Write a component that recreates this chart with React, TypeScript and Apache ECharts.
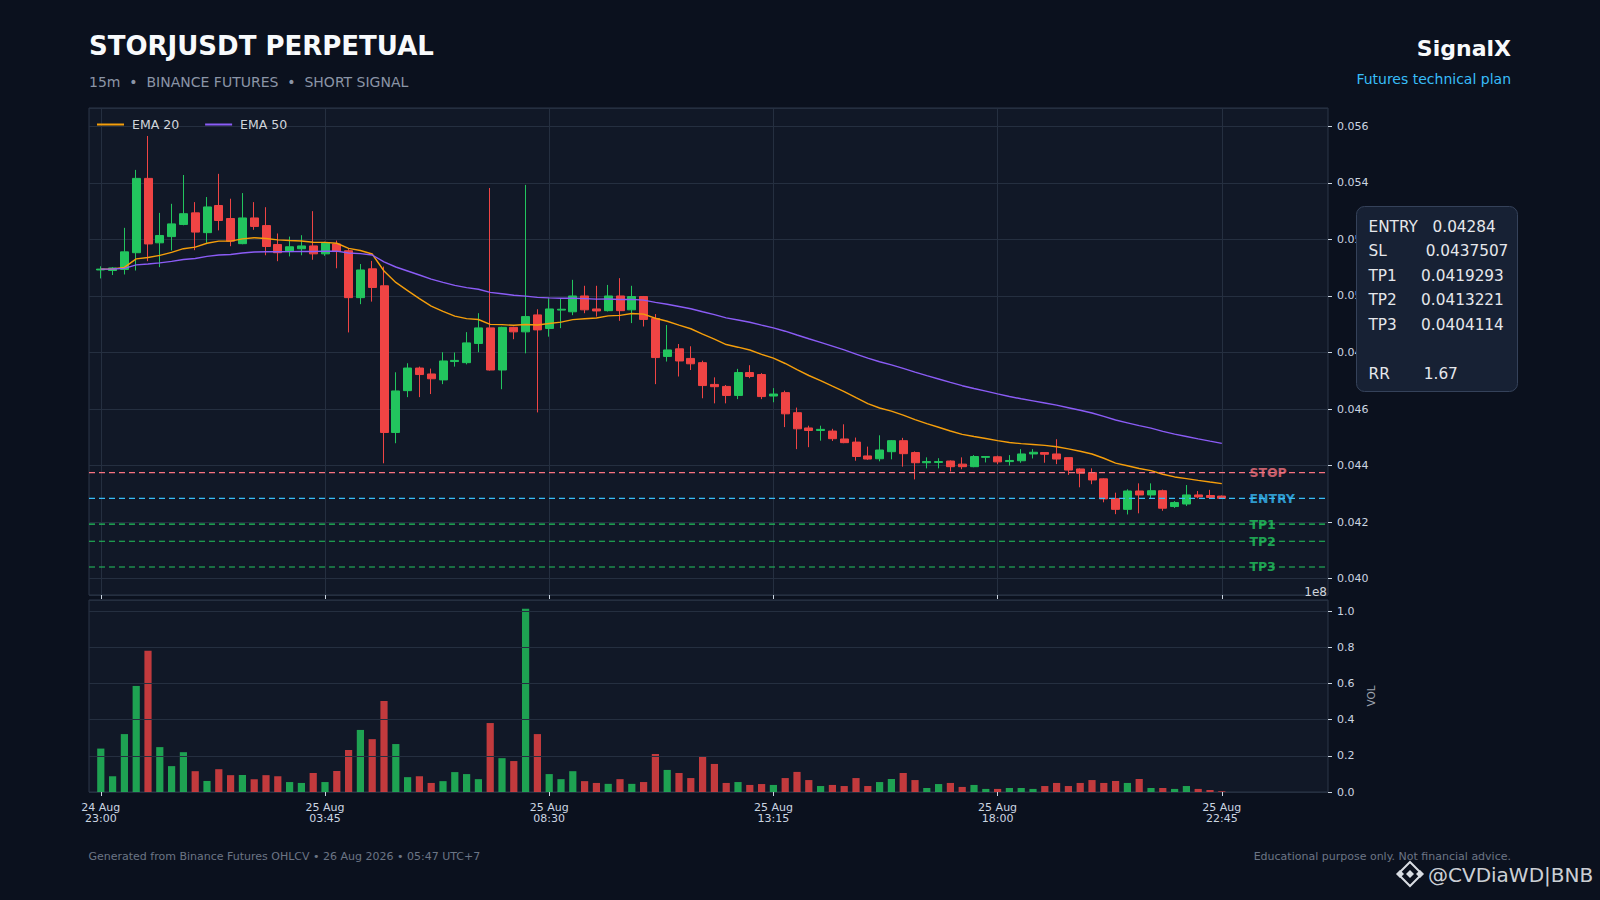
import React, { useEffect, useRef } from "react";
import * as echarts from "echarts";

// ---------------- texts ----------------
const TITLE = "STORJUSDT PERPETUAL";
const SUBTITLE = "15m  •  BINANCE FUTURES  •  SHORT SIGNAL";
const BRAND = "SignalX";
const BRAND_SUB = "Futures technical plan";
const FOOTER_LEFT = "Generated from Binance Futures OHLCV • 26 Aug 2026 • 05:47 UTC+7";
const FOOTER_RIGHT = "Educational purpose only. Not financial advice.";
const WATERMARK = "@CVDiaWD|BNB";
const OFFSET_TEXT = "1e8";

// ---------------- x axis ----------------
const TICK_INDEX = [0, 19, 38, 57, 76, 95];
const TICK_LABELS = [
  "24 Aug\n23:00",
  "25 Aug\n03:45",
  "25 Aug\n08:30",
  "25 Aug\n13:15",
  "25 Aug\n18:00",
  "25 Aug\n22:45",
];

// ---------------- OHLC (15m candles) ----------------
const OPEN = [
  0.05092, 0.0509, 0.05094, 0.05153, 0.05416, 0.05188, 0.0521, 0.05253, 0.05294, 0.05224,
  0.0532, 0.05274, 0.05185, 0.05276, 0.05249, 0.05182, 0.05157, 0.05167, 0.05177, 0.05149,
  0.05184, 0.0516, 0.04994, 0.05096, 0.05036, 0.04517, 0.04665, 0.04745, 0.04724, 0.04703,
  0.04768, 0.04764, 0.04832, 0.04887, 0.04738, 0.04889, 0.04873, 0.04933, 0.04885, 0.0495,
  0.04944, 0.05, 0.04954, 0.04948, 0.05, 0.04951, 0.04998, 0.0492, 0.04786, 0.04813,
  0.04779, 0.04764, 0.04687, 0.0468, 0.04648, 0.04729, 0.04722, 0.04646, 0.04658, 0.04587,
  0.04533, 0.04524, 0.04522, 0.04494, 0.04483, 0.04434, 0.04424, 0.04449, 0.04488, 0.04446,
  0.0441, 0.04411, 0.04416, 0.04405, 0.04396, 0.04429, 0.04431, 0.04414, 0.04417, 0.04441,
  0.04446, 0.04441, 0.04428, 0.04388, 0.04375, 0.04353, 0.04283, 0.04245, 0.0431, 0.04296,
  0.04311, 0.04255, 0.04264, 0.04296, 0.04294, 0.04292,
];
const CLOSE = [
  0.05095, 0.05099, 0.05156, 0.05416, 0.05184, 0.05214, 0.05255, 0.05291, 0.05226, 0.05315,
  0.05267, 0.05194, 0.05276, 0.05246, 0.05175, 0.05153, 0.05174, 0.05177, 0.05149, 0.05187,
  0.05157, 0.04994, 0.05092, 0.0503, 0.04517, 0.04664, 0.04745, 0.04722, 0.04707, 0.0477,
  0.04772, 0.04834, 0.04887, 0.04738, 0.04889, 0.04873, 0.04927, 0.0488, 0.04954, 0.04953,
  0.05, 0.04951, 0.04947, 0.05, 0.04948, 0.04998, 0.04917, 0.04782, 0.04809, 0.0477,
  0.0476, 0.04683, 0.04679, 0.04648, 0.04729, 0.04715, 0.04644, 0.04653, 0.04583, 0.0453,
  0.04524, 0.04528, 0.04495, 0.04481, 0.04432, 0.04423, 0.04455, 0.04488, 0.04442, 0.0441,
  0.04414, 0.04414, 0.04396, 0.04396, 0.04432, 0.04432, 0.04413, 0.04418, 0.04441, 0.04447,
  0.0444, 0.04423, 0.04384, 0.04373, 0.04349, 0.04282, 0.04245, 0.0431, 0.04296, 0.04311,
  0.04249, 0.04269, 0.04296, 0.04289, 0.04287, 0.04284,
];
const LOW = [
  0.05062, 0.05074, 0.05076, 0.0509, 0.05123, 0.05102, 0.05161, 0.0525, 0.05162, 0.05188,
  0.05232, 0.05176, 0.05183, 0.05234, 0.05144, 0.05123, 0.0514, 0.05144, 0.05128, 0.05142,
  0.05098, 0.04871, 0.04971, 0.0498, 0.04408, 0.04479, 0.04642, 0.04642, 0.04653, 0.04688,
  0.0475, 0.04758, 0.04801, 0.04736, 0.0467, 0.04847, 0.04797, 0.04588, 0.04856, 0.04886,
  0.04932, 0.04939, 0.04927, 0.04945, 0.04912, 0.04904, 0.04892, 0.04688, 0.04768, 0.04715,
  0.04738, 0.04638, 0.0462, 0.0462, 0.04635, 0.04709, 0.04635, 0.04624, 0.04536, 0.04458,
  0.04465, 0.04488, 0.04487, 0.04479, 0.04417, 0.0442, 0.04415, 0.04422, 0.04396, 0.04351,
  0.0439, 0.0439, 0.04379, 0.04387, 0.04394, 0.04411, 0.04405, 0.044, 0.0441, 0.04425,
  0.0441, 0.04405, 0.04367, 0.04323, 0.04334, 0.0427, 0.04228, 0.04227, 0.04231, 0.04284,
  0.0424, 0.0425, 0.04257, 0.04284, 0.04284, 0.04282,
];
const HIGH = [
  0.05105, 0.05102, 0.05241, 0.05446, 0.05566, 0.05294, 0.05326, 0.05428, 0.05332, 0.0535,
  0.05432, 0.05344, 0.05364, 0.05332, 0.05314, 0.05221, 0.0521, 0.05215, 0.053, 0.05192,
  0.05196, 0.05166, 0.05113, 0.05124, 0.05104, 0.0473, 0.04762, 0.0475, 0.04743, 0.04801,
  0.048, 0.04872, 0.04939, 0.05382, 0.04891, 0.04891, 0.05393, 0.04953, 0.04992, 0.0499,
  0.05057, 0.05036, 0.05036, 0.05039, 0.05063, 0.05036, 0.05, 0.04936, 0.04897, 0.0483,
  0.04822, 0.04771, 0.04712, 0.04685, 0.04742, 0.04755, 0.04727, 0.04674, 0.04665, 0.04605,
  0.04541, 0.04541, 0.0453, 0.04546, 0.04499, 0.04467, 0.04507, 0.0449, 0.04498, 0.0445,
  0.04429, 0.04426, 0.04418, 0.04429, 0.04437, 0.04433, 0.04435, 0.04437, 0.04458, 0.04458,
  0.04447, 0.04493, 0.04428, 0.0439, 0.0439, 0.04355, 0.04304, 0.04316, 0.04337, 0.04337,
  0.04315, 0.04274, 0.04331, 0.0431, 0.04314, 0.04294,
];
// volume in units of 1e8
const VOLUME = [
  0.24, 0.087, 0.32, 0.586, 0.78, 0.248, 0.143, 0.22, 0.115, 0.061,
  0.126, 0.093, 0.094, 0.071, 0.093, 0.087, 0.055, 0.05, 0.105, 0.055,
  0.116, 0.232, 0.343, 0.292, 0.503, 0.265, 0.082, 0.087, 0.05, 0.06,
  0.11, 0.099, 0.071, 0.381, 0.187, 0.171, 1.012, 0.32, 0.099, 0.071,
  0.115, 0.06, 0.05, 0.045, 0.071, 0.045, 0.055, 0.21, 0.122, 0.105,
  0.077, 0.194, 0.155, 0.05, 0.055, 0.039, 0.044, 0.039, 0.077, 0.111,
  0.066, 0.033, 0.039, 0.033, 0.077, 0.033, 0.055, 0.072, 0.105, 0.066,
  0.022, 0.044, 0.05, 0.028, 0.039, 0.017, 0.017, 0.022, 0.022, 0.017,
  0.033, 0.05, 0.033, 0.05, 0.066, 0.05, 0.061, 0.05, 0.072, 0.022,
  0.022, 0.017, 0.033, 0.017, 0.011, 0.004,
];

// ---------------- trade plan ----------------
const LEVEL_NAMES = ["STOP", "ENTRY", "TP1", "TP2", "TP3"];
const LEVEL_VALUES = [0.0437507, 0.04284, 0.0419293, 0.0413221, 0.0404114];
const INFO_ROWS = [
  "ENTRY   0.04284",
  "SL        0.0437507",
  "TP1     0.0419293",
  "TP2     0.0413221",
  "TP3     0.0404114",
  "",
  "RR       1.67",
];

// ---------------- styles / layout ----------------
const FONT = "DejaVu Sans";
const BG = "#0b111e";
const PLOT_BG = "#111827";
const BORDER = "#2d3748";
const GRID_LINE = "#252f40";
const AXIS_TEXT = "#cbd5e1";
const UP = "#22c55e";
const DOWN = "#ef4444";
const VOL_UP = "rgba(34,197,94,0.8)";
const VOL_DOWN = "rgba(239,68,68,0.8)";
const LEVEL_COLORS = ["#f7727f", "#38bdf8", "#22c55e", "#22c55e", "#22c55e"];
const SLOT_COUNT = 106; // candle i sits in slot i + 1
const LABEL_SLOT = 98;
const PLOT_LEFT = 89;
const PLOT_WIDTH = 1239;

function ema(values: number[], span: number): number[] {
  const k = 2 / (span + 1);
  const out: number[] = [];
  values.forEach((v, i) => {
    out.push(i === 0 ? v : out[i - 1] + k * (v - out[i - 1]));
  });
  return out;
}

const nb = (s: string) => s.replace(/ /g, "\u00a0");

export default function App() {
  const ref = useRef<HTMLDivElement>(null);

  useEffect(() => {
    if (!ref.current) return;
    const chart = echarts.init(ref.current, undefined, { renderer: "svg" });

    const slots = Array.from({ length: SLOT_COUNT }, (_, k) => String(k));
    const tickSlots = new Set(TICK_INDEX.map((i) => i + 1));
    const isTick = (idx: number) => tickSlots.has(idx);
    const ema20 = ema(CLOSE, 20);
    const ema50 = ema(CLOSE, 50);

    const priceFmt = (v: number) => {
      const r = Math.round(v / 0.002);
      return Math.abs(v - r * 0.002) < 1e-7 ? v.toFixed(3) : "";
    };
    const volFmt = (v: number) => {
      const r = Math.round(v / 0.2);
      return Math.abs(v - r * 0.2) < 1e-6 ? v.toFixed(1) : "";
    };

    const xCommon = {
      type: "category",
      data: slots,
      boundaryGap: false,
      axisLine: { show: false },
      axisTick: { show: true, interval: (i: number) => isTick(i), length: 4, lineStyle: { color: AXIS_TEXT } },
    };

    const graphics: any[] = [
      { type: "text", x: 89, y: 46, z: 100, style: { text: TITLE, fill: "#f8fafc", font: `bold 26px "${FONT}"`, textAlign: "left", textVerticalAlign: "middle" } },
      { type: "text", x: 89, y: 82, z: 100, style: { text: nb(SUBTITLE), fill: "#8b95a7", font: `14px "${FONT}"`, textAlign: "left", textVerticalAlign: "middle" } },
      { type: "text", x: 1511, y: 48.5, z: 100, style: { text: BRAND, fill: "#f8fafc", font: `bold 22px "${FONT}"`, textAlign: "right", textVerticalAlign: "middle" } },
      { type: "text", x: 1511, y: 79, z: 100, style: { text: BRAND_SUB, fill: "#38bdf8", font: `14px "${FONT}"`, textAlign: "right", textVerticalAlign: "middle" } },
      { type: "text", x: 1327, y: 592, z: 100, style: { text: OFFSET_TEXT, fill: "#d1d5db", font: `12px "${FONT}"`, textAlign: "right", textVerticalAlign: "middle" } },
      { type: "text", x: 88.5, y: 856, z: 100, style: { text: FOOTER_LEFT, fill: "#6b7585", font: `11px "${FONT}"`, textAlign: "left", textVerticalAlign: "middle" } },
      { type: "text", x: 1511, y: 856, z: 100, style: { text: FOOTER_RIGHT, fill: "#6b7585", font: `11px "${FONT}"`, textAlign: "right", textVerticalAlign: "middle" } },
      {
        type: "rect",
        z: 100,
        shape: { x: 1356.5, y: 206.5, width: 161, height: 185, r: 8 },
        style: { fill: "#172134", stroke: "#35425a", lineWidth: 1 },
      },
      // watermark logo
      { type: "polygon", z: 101, shape: { points: [[1410, 862], [1422, 874], [1410, 886], [1398, 874]] }, style: { fill: "none", stroke: "#d9dde3", lineWidth: 2 } },
      { type: "polygon", z: 101, shape: { points: [[1400, 870], [1404, 874], [1400, 878], [1396, 874]] }, style: { fill: "#d9dde3" } },
      { type: "polygon", z: 101, shape: { points: [[1410, 870], [1414, 874], [1410, 878], [1406, 874]] }, style: { fill: "#d9dde3" } },
      { type: "polygon", z: 101, shape: { points: [[1420, 870], [1424, 874], [1420, 878], [1416, 874]] }, style: { fill: "#d9dde3" } },
      { type: "text", x: 1428, y: 875, z: 101, style: { text: WATERMARK, fill: "rgba(230,233,238,0.9)", font: `20px "${FONT}"`, textAlign: "left", textVerticalAlign: "middle" } },
    ];
    INFO_ROWS.forEach((row, r) => {
      if (!row) return;
      graphics.push({
        type: "text",
        x: 1368.5,
        y: 226.5 + r * 24.6,
        z: 102,
        style: { text: nb(row), fill: "#e5e7eb", font: `15.3px "${FONT}"`, textAlign: "left", textVerticalAlign: "middle" },
      });
    });

    const levelLines = LEVEL_VALUES.map((v, k) => ({
      name: LEVEL_NAMES[k] + " line",
      type: "line",
      xAxisIndex: 0,
      yAxisIndex: 0,
      silent: true,
      symbol: "none",
      showSymbol: false,
      data: [
        [0, v],
        [SLOT_COUNT - 1, v],
      ],
      lineStyle: { color: LEVEL_COLORS[k], type: [6, 4], width: 1.2 },
      itemStyle: { color: LEVEL_COLORS[k] },
      z: 5,
    }));

    const option: any = {
      animation: false,
      backgroundColor: BG,
      textStyle: { fontFamily: FONT },
      legend: {
        data: ["EMA 20", "EMA 50"],
        left: 97,
        top: 118,
        padding: 0,
        icon: "rect",
        itemWidth: 27,
        itemHeight: 2,
        itemGap: 26,
        textStyle: { color: "#d1d5db", fontSize: 12.5, fontFamily: FONT, padding: [0, 0, 0, 3] },
      },
      grid: [
        { left: PLOT_LEFT, top: 108, width: PLOT_WIDTH, height: 487, show: true, backgroundColor: PLOT_BG, borderColor: BORDER, borderWidth: 1, outerBoundsMode: "none" },
        { left: PLOT_LEFT, top: 600, width: PLOT_WIDTH, height: 192, show: true, backgroundColor: PLOT_BG, borderColor: BORDER, borderWidth: 1, outerBoundsMode: "none" },
      ],
      xAxis: [
        {
          ...xCommon,
          gridIndex: 0,
          axisLabel: { show: false },
          splitLine: { show: true, interval: (i: number) => isTick(i), lineStyle: { color: GRID_LINE, width: 1 } },
        },
        {
          ...xCommon,
          gridIndex: 1,
          axisLabel: {
            show: true,
            interval: (i: number) => isTick(i),
            formatter: (_v: string, idx: number) => {
              const t = TICK_INDEX.indexOf(idx - 1);
              return t >= 0 ? TICK_LABELS[t] : "";
            },
            color: AXIS_TEXT,
            fontSize: 11,
            lineHeight: 11,
            margin: 10,
            fontFamily: FONT,
          },
          splitLine: { show: false },
        },
      ],
      yAxis: [
        {
          type: "value",
          gridIndex: 0,
          position: "right",
          min: 0.03942,
          max: 0.05665,
          splitNumber: 8,
          axisLine: { show: false },
          axisTick: { show: true, length: 4, lineStyle: { color: AXIS_TEXT } },
          axisLabel: { color: AXIS_TEXT, fontSize: 11, margin: 9, fontFamily: FONT, formatter: priceFmt, showMinLabel: false, showMaxLabel: false },
          splitLine: { show: true, lineStyle: { color: GRID_LINE, width: 1 } },
        },
        {
          type: "value",
          gridIndex: 1,
          position: "right",
          min: 0,
          max: 1.061,
          interval: 0.2,
          name: "VOL",
          nameLocation: "middle",
          nameGap: 34,
          nameRotate: 90,
          nameTextStyle: { color: "#9ca3af", fontSize: 10.5, fontFamily: FONT },
          axisLine: { show: false },
          axisTick: { show: true, length: 4, lineStyle: { color: AXIS_TEXT } },
          axisLabel: { color: AXIS_TEXT, fontSize: 11, margin: 9, fontFamily: FONT, formatter: volFmt, showMaxLabel: false },
          splitLine: { show: true, lineStyle: { color: GRID_LINE, width: 1 } },
        },
      ],
      series: [
        {
          name: "Price",
          type: "candlestick",
          xAxisIndex: 0,
          yAxisIndex: 0,
          barWidth: 8.5,
          encode: { x: 0, y: [1, 2, 3, 4] },
          data: OPEN.map((o, i) => [i + 1, o, CLOSE[i], LOW[i], HIGH[i]]),
          itemStyle: { color: UP, color0: DOWN, borderColor: UP, borderColor0: DOWN, borderWidth: 1 },
          z: 3,
        },
        ...levelLines,
        {
          name: "EMA 20",
          type: "line",
          xAxisIndex: 0,
          yAxisIndex: 0,
          data: ema20.map((v, i) => [i + 1, v]),
          symbol: "none",
          showSymbol: false,
          lineStyle: { color: "#f59e0b", width: 1.4 },
          itemStyle: { color: "#f59e0b" },
          z: 4,
        },
        {
          name: "EMA 50",
          type: "line",
          xAxisIndex: 0,
          yAxisIndex: 0,
          data: ema50.map((v, i) => [i + 1, v]),
          symbol: "none",
          showSymbol: false,
          lineStyle: { color: "#8b5cf6", width: 1.4 },
          itemStyle: { color: "#8b5cf6" },
          z: 4,
        },
        {
          name: "Levels",
          type: "scatter",
          xAxisIndex: 0,
          yAxisIndex: 0,
          symbolSize: 0,
          silent: true,
          z: 6,
          data: LEVEL_NAMES.map((n, k) => ({ name: n, value: [LABEL_SLOT, LEVEL_VALUES[k]], label: { color: LEVEL_COLORS[k] } })),
          label: { show: true, position: "right", distance: 4, formatter: "{b}", fontSize: 12.5, fontWeight: "bold", fontFamily: FONT },
        },
        {
          name: "Volume",
          type: "bar",
          xAxisIndex: 1,
          yAxisIndex: 1,
          barWidth: 7.2,
          data: VOLUME.map((v, i) => ({ value: [i + 1, v], itemStyle: { color: CLOSE[i] >= OPEN[i] ? VOL_UP : VOL_DOWN } })),
          markLine: {
            silent: true,
            symbol: ["none", "none"],
            label: { show: false },
            lineStyle: { color: GRID_LINE, type: "solid", width: 1 },
            data: [0.2, 0.4, 0.6, 0.8, 1.0].map((v) => ({ yAxis: v })),
          },
        },
      ],
      graphic: graphics,
    };

    chart.setOption(option);
    return () => chart.dispose();
  }, []);

  return <div ref={ref} style={{ position: "fixed", left: 0, top: 0, width: 1600, height: 900 }} />;
}
